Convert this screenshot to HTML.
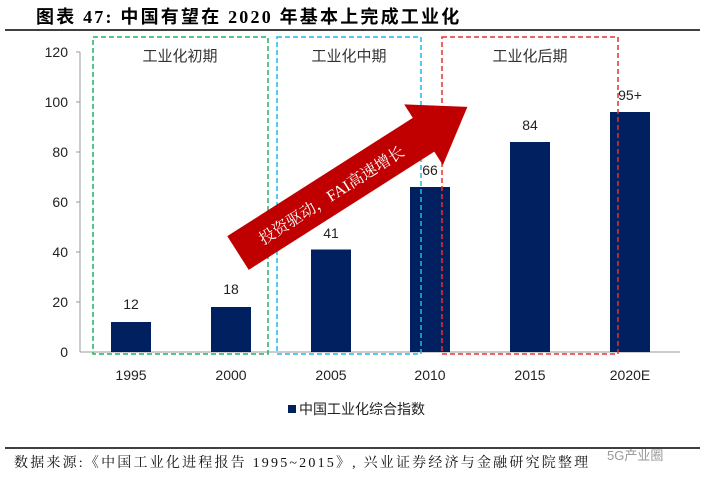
<!DOCTYPE html>
<html><head><meta charset="utf-8"><style>
body{margin:0;width:703px;height:484px;background:#fff;overflow:hidden}
</style></head><body>
<svg width="703" height="484" xmlns="http://www.w3.org/2000/svg" font-family="'Liberation Sans','Noto Sans CJK SC',sans-serif">
<text x="36" y="23" font-size="18" font-weight="bold" letter-spacing="2.2" font-family="'Liberation Serif','Noto Sans CJK SC',serif">图表 47:  中国有望在 2020 年基本上完成工业化</text>
<line x1="5" y1="30" x2="700" y2="30" stroke="#000" stroke-width="1.5"/>
<g font-size="14" fill="#222" text-anchor="end">
<text x="68" y="57">120</text><text x="68" y="107">100</text><text x="68" y="157">80</text><text x="68" y="207">60</text><text x="68" y="257">40</text><text x="68" y="307">20</text><text x="68" y="357">0</text>
</g>
<g stroke="#999" stroke-width="1">
<line x1="80" y1="52" x2="80" y2="352"/>
<line x1="76" y1="52" x2="80" y2="52"/><line x1="76" y1="102" x2="80" y2="102"/><line x1="76" y1="152" x2="80" y2="152"/><line x1="76" y1="202" x2="80" y2="202"/><line x1="76" y1="252" x2="80" y2="252"/><line x1="76" y1="302" x2="80" y2="302"/>
<line x1="80" y1="352" x2="680" y2="352"/>
</g>
<g fill="#002060">
<rect x="111" y="322" width="40" height="30"/>
<rect x="211" y="307" width="40" height="45"/>
<rect x="311" y="249.5" width="40" height="102.5"/>
<rect x="410" y="187" width="40" height="165"/>
<rect x="510" y="142" width="40" height="210"/>
<rect x="610" y="112" width="40" height="240"/>
</g>
<g font-size="14" fill="#222" text-anchor="middle">
<text x="131" y="309">12</text><text x="231" y="294">18</text><text x="331" y="238">41</text><text x="430" y="175">66</text><text x="530" y="130">84</text><text x="630" y="100">95+</text>
<text x="131" y="380">1995</text><text x="231" y="380">2000</text><text x="331" y="380">2005</text><text x="430" y="380">2010</text><text x="530" y="380">2015</text><text x="630" y="380">2020E</text>
</g>
<rect x="93" y="37" width="175" height="317" fill="none" stroke="#22b060" stroke-width="1.5" stroke-dasharray="5,3"/>
<rect x="277" y="37" width="144" height="317" fill="none" stroke="#20b8e8" stroke-width="1.5" stroke-dasharray="5,3"/>
<rect x="442" y="37" width="176" height="317" fill="none" stroke="#e83030" stroke-width="1.5" stroke-dasharray="5,3"/>
<g font-size="15" fill="#333" text-anchor="middle">
<text x="180" y="61">工业化初期</text><text x="349" y="61">工业化中期</text><text x="530" y="61">工业化后期</text>
</g>
<g transform="translate(238,253) rotate(-32.5)">
<polygon points="0,-20 220,-20 220,-36 272,0 220,36 220,20 0,20" fill="#c00000"/>
<text x="110" y="7" font-size="16" fill="#fff" text-anchor="middle" font-family="'Liberation Serif','Noto Serif CJK SC',serif">投资驱动，FAI高速增长</text>
</g>
<rect x="288" y="405" width="8" height="8" fill="#002060"/>
<text x="299" y="414" font-size="14" fill="#222">中国工业化综合指数</text>
<line x1="5" y1="448" x2="700" y2="448" stroke="#000" stroke-width="1.5"/>
<text x="14" y="467" font-size="14" fill="#111" letter-spacing="2.2" font-family="'Liberation Serif','Noto Serif CJK SC',serif">数据来源:《中国工业化进程报告 1995~2015》, 兴业证券经济与金融研究院整理</text>
<text x="607" y="460" font-size="13" fill="#999">5G产业圈</text>
</svg>
</body></html>
